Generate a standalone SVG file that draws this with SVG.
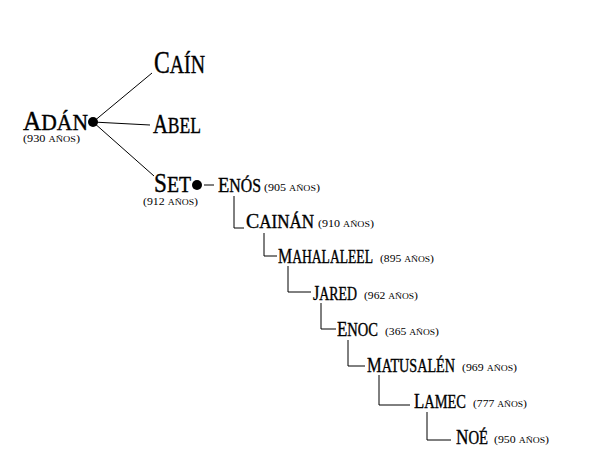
<svg xmlns="http://www.w3.org/2000/svg" width="610" height="476" viewBox="0 0 610 476">
<style>
text{font-family:"Liberation Serif",serif;font-variant:small-caps;fill:#000}
.n{font-size:21px;stroke:#000;stroke-width:0.35}
.b{stroke:#000;stroke-width:0.4}
.y{font-size:11px}
.s{font-size:122%}
line,path{stroke:#000;stroke-width:1;fill:none}
</style>
<rect width="610" height="476" fill="#fff"/>
<g id="connectors">
<line x1="93" y1="122" x2="152" y2="73"/>
<line x1="93" y1="122" x2="150" y2="125"/>
<line x1="93" y1="122" x2="154" y2="176"/>
<line x1="204" y1="185" x2="214" y2="185"/>
<path d="M234 196V228H244"/>
<path d="M264 233V256H277"/>
<path d="M288 266V292H311"/>
<path d="M321 303V329H336"/>
<path d="M348 340V366H365"/>
<path d="M379 375V405H410"/>
<path d="M427 412V440H451"/>
</g>
<g id="adan"><circle cx="93" cy="122" r="5"/><text class="b" x="23" y="130" style="font-size:27px" textLength="65" lengthAdjust="spacingAndGlyphs">A<tspan class="s">dán</tspan></text><text class="y" x="23" y="142" textLength="57" lengthAdjust="spacingAndGlyphs">(930 <tspan class="s">años</tspan>)</text></g>
<g id="cain"><text class="b" x="154" y="73" style="font-size:31px" textLength="51" lengthAdjust="spacingAndGlyphs">C<tspan class="s">aín</tspan></text></g>
<g id="abel"><text class="b" x="153" y="133" style="font-size:27px" textLength="48" lengthAdjust="spacingAndGlyphs">A<tspan class="s">bel</tspan></text></g>
<g id="set"><circle cx="197" cy="185" r="5"/><text class="b" x="154" y="192" style="font-size:27px" textLength="37" lengthAdjust="spacingAndGlyphs">S<tspan class="s">et</tspan></text><text class="y" x="143" y="205" textLength="55" lengthAdjust="spacingAndGlyphs">(912 <tspan class="s">años</tspan>)</text></g>
<g id="enos"><text class="n" x="218" y="192" textLength="43" lengthAdjust="spacingAndGlyphs">E<tspan class="s">nós</tspan></text><text class="y" x="264" y="191" textLength="56" lengthAdjust="spacingAndGlyphs">(905 <tspan class="s">años</tspan>)</text></g>
<g id="cainan"><text class="n" x="246" y="228" textLength="68" lengthAdjust="spacingAndGlyphs">C<tspan class="s">ainán</tspan></text><text class="y" x="318" y="227" textLength="56" lengthAdjust="spacingAndGlyphs">(910 <tspan class="s">años</tspan>)</text></g>
<g id="mahalaleel"><text class="n" x="278" y="263" textLength="95" lengthAdjust="spacingAndGlyphs">M<tspan class="s">ahalaleel</tspan></text><text class="y" x="380" y="262" textLength="54" lengthAdjust="spacingAndGlyphs">(895 <tspan class="s">años</tspan>)</text></g>
<g id="jared"><text class="n" x="313" y="300" textLength="44" lengthAdjust="spacingAndGlyphs">J<tspan class="s">ared</tspan></text><text class="y" x="364" y="299" textLength="54" lengthAdjust="spacingAndGlyphs">(962 <tspan class="s">años</tspan>)</text></g>
<g id="enoc"><text class="n" x="337" y="336" textLength="41" lengthAdjust="spacingAndGlyphs">E<tspan class="s">noc</tspan></text><text class="y" x="385" y="335" textLength="54" lengthAdjust="spacingAndGlyphs">(365 <tspan class="s">años</tspan>)</text></g>
<g id="matusalen"><text class="n" x="367" y="372" textLength="88" lengthAdjust="spacingAndGlyphs">M<tspan class="s">atusalén</tspan></text><text class="y" x="462" y="371" textLength="55" lengthAdjust="spacingAndGlyphs">(969 <tspan class="s">años</tspan>)</text></g>
<g id="lamec"><text class="n" x="414" y="408" textLength="52" lengthAdjust="spacingAndGlyphs">L<tspan class="s">amec</tspan></text><text class="y" x="473" y="407" textLength="54" lengthAdjust="spacingAndGlyphs">(777 <tspan class="s">años</tspan>)</text></g>
<g id="noe"><text class="n" x="456" y="444" textLength="32" lengthAdjust="spacingAndGlyphs">N<tspan class="s">oé</tspan></text><text class="y" x="494" y="443" textLength="55" lengthAdjust="spacingAndGlyphs">(950 <tspan class="s">años</tspan>)</text></g>
</svg>
